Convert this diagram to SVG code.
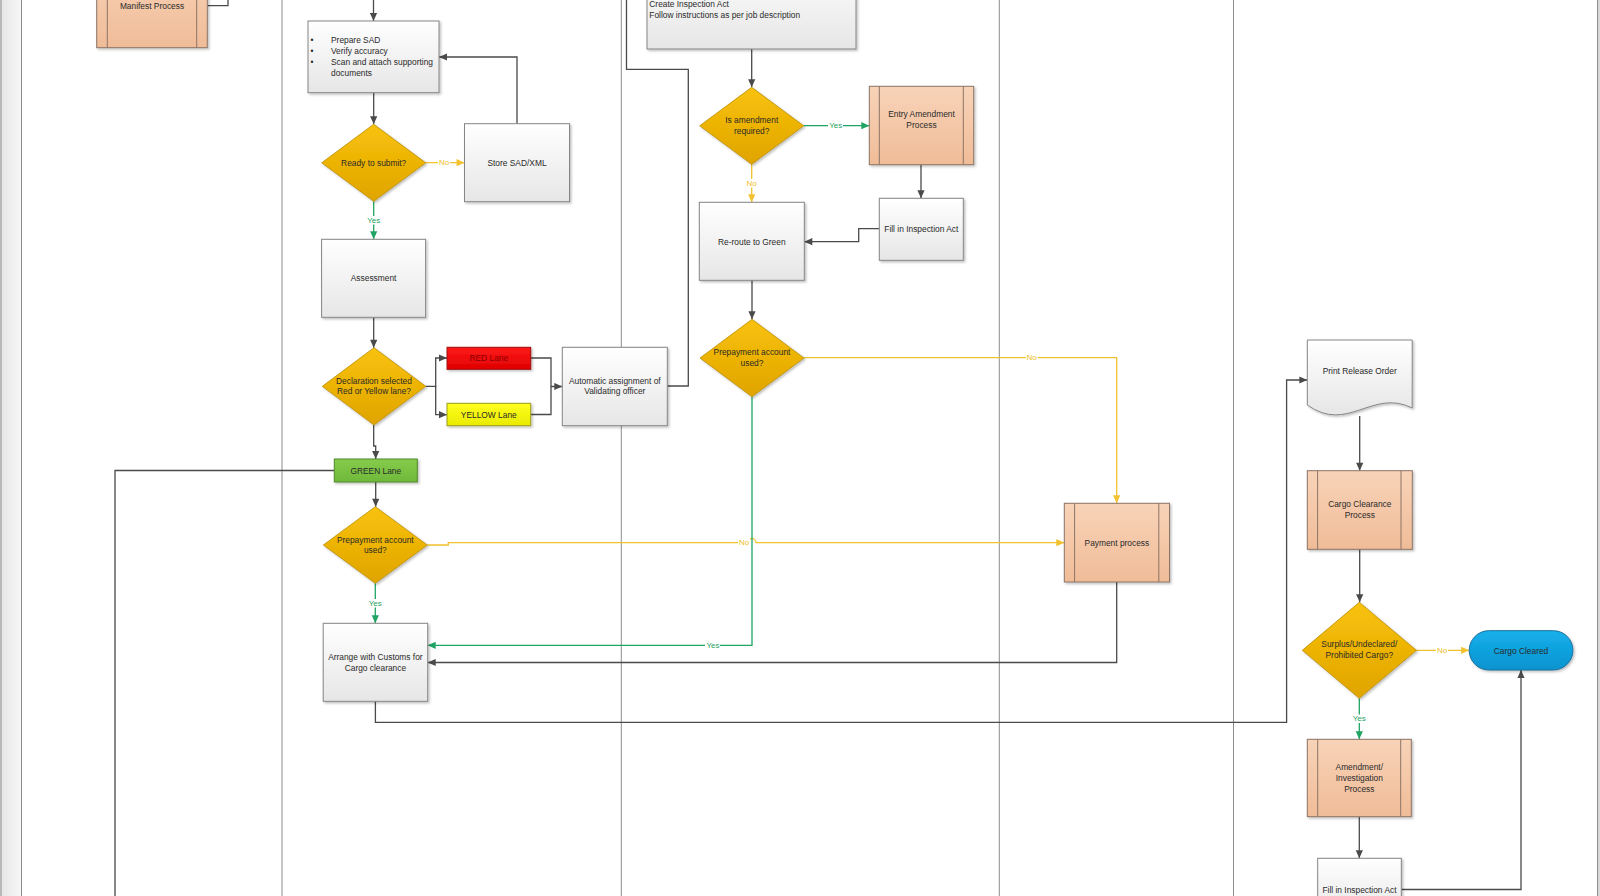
<svg xmlns="http://www.w3.org/2000/svg" width="1600" height="896" viewBox="0 0 1600 896">
<defs>
<linearGradient id="gBox" x1="0" y1="0" x2="0" y2="1"><stop offset="0" stop-color="#ffffff"/><stop offset="1" stop-color="#e6e6e6"/></linearGradient>
<linearGradient id="gDec" x1="0" y1="0" x2="0" y2="1"><stop offset="0" stop-color="#f9c20a"/><stop offset="1" stop-color="#e0a400"/></linearGradient>
<linearGradient id="gSub" x1="0" y1="0" x2="0" y2="1"><stop offset="0" stop-color="#f8d3b8"/><stop offset="1" stop-color="#f0bc98"/></linearGradient>
<linearGradient id="gBlue" x1="0" y1="0" x2="0" y2="1"><stop offset="0" stop-color="#16b0ec"/><stop offset="1" stop-color="#0793cf"/></linearGradient>
<linearGradient id="gRed" x1="0" y1="0" x2="0" y2="1"><stop offset="0" stop-color="#ff1a1a"/><stop offset="1" stop-color="#e00000"/></linearGradient>
<linearGradient id="gYel" x1="0" y1="0" x2="0" y2="1"><stop offset="0" stop-color="#ffff20"/><stop offset="1" stop-color="#eaea00"/></linearGradient>
<linearGradient id="gGrn" x1="0" y1="0" x2="0" y2="1"><stop offset="0" stop-color="#86cc4c"/><stop offset="1" stop-color="#6fb83a"/></linearGradient>
<linearGradient id="gLeft" x1="0" y1="0" x2="1" y2="0"><stop offset="0" stop-color="#e4e4e4"/><stop offset="1" stop-color="#f8f8f8"/></linearGradient>
<filter id="sh" x="-10%" y="-10%" width="130%" height="130%"><feDropShadow dx="1.5" dy="1.5" stdDeviation="1" flood-color="#000" flood-opacity="0.25"/></filter>
<marker id="aD" viewBox="0 0 10 10" refX="10" refY="5" markerWidth="9" markerHeight="8" markerUnits="userSpaceOnUse" orient="auto"><path d="M0 0.5 L10 5 L0 9.5 z" fill="#4a4a4a"/></marker>
<marker id="aG" viewBox="0 0 10 10" refX="10" refY="5" markerWidth="9" markerHeight="8" markerUnits="userSpaceOnUse" orient="auto"><path d="M0 0.5 L10 5 L0 9.5 z" fill="#1fa463"/></marker>
<marker id="aY" viewBox="0 0 10 10" refX="10" refY="5" markerWidth="9" markerHeight="8" markerUnits="userSpaceOnUse" orient="auto"><path d="M0 0.5 L10 5 L0 9.5 z" fill="#f2c12e"/></marker>
</defs>
<style>
.box{fill:url(#gBox);stroke:#858585;stroke-width:1;filter:url(#sh)}
.dec{fill:url(#gDec);stroke:#b98d00;stroke-width:0.8;filter:url(#sh)}
.sub{fill:url(#gSub);stroke:#8c7466;stroke-width:1;filter:url(#sh)}
.inner{stroke:#8c7466;stroke-width:1}
.t{font-family:"Liberation Sans",Arial,sans-serif;font-size:8.4px;fill:#2a2a2a;text-anchor:middle;dominant-baseline:central}
.tl{font-family:"Liberation Sans",Arial,sans-serif;font-size:8.4px;fill:#2a2a2a;dominant-baseline:central}
.lg{font-family:"Liberation Sans",Arial,sans-serif;font-size:8px;fill:#1fa463;text-anchor:middle;dominant-baseline:central}
.ly{font-family:"Liberation Sans",Arial,sans-serif;font-size:8px;fill:#efbd1c;text-anchor:middle;dominant-baseline:central}
.bg{fill:#ffffff}
.c{fill:none;stroke:#4a4a4a;stroke-width:1.3}
.cg{fill:none;stroke:#1fa463;stroke-width:1.3}
.cy{fill:none;stroke:#f2c12e;stroke-width:1.3}
.lane{stroke:#8c8c8c;stroke-width:1}
</style>
<rect x="0" y="0" width="1600" height="896" fill="#ffffff"/>
<g id="frame">
<rect x="0" y="0" width="22" height="896" fill="url(#gLeft)"/>
<line x1="1" y1="0" x2="1" y2="896" stroke="#9a9a9a" stroke-width="1.2"/>
<line x1="21.5" y1="0" x2="21.5" y2="896" class="lane"/>
<line x1="282" y1="0" x2="282" y2="896" class="lane"/>
<line x1="621.3" y1="0" x2="621.3" y2="896" class="lane"/>
<line x1="999.3" y1="0" x2="999.3" y2="896" class="lane"/>
<line x1="1233.5" y1="0" x2="1233.5" y2="896" class="lane"/>
<rect x="1597.5" y="0" width="3" height="896" fill="#d8d8d8"/>
<line x1="1597.5" y1="0" x2="1597.5" y2="896" stroke="#8c8c8c" stroke-width="1"/>
</g>

<g id="connectors">
<path class="c" d="M207.3 5.7 H228 V0"/>
<path class="c" d="M373.5 0 V21" marker-end="url(#aD)"/>
<path class="c" d="M373.7 92.7 V124.3" marker-end="url(#aD)"/>
<path class="cy" d="M425.7 162.7 H464.5" marker-end="url(#aY)"/>
<path class="c" d="M517 123.7 V57 H439" marker-end="url(#aD)"/>
<path class="cg" d="M373.7 201.3 V239.3" marker-end="url(#aG)"/>
<path class="c" d="M373.7 317.3 V347.7" marker-end="url(#aD)"/>
<path class="c" d="M425.7 386.3 H435.7 V358 H447" marker-end="url(#aD)"/>
<path class="c" d="M435.7 386.3 V414.7 H447" marker-end="url(#aD)"/>
<path class="c" d="M530.7 358 H551 V386.5 H562.3" marker-end="url(#aD)"/>
<path class="c" d="M530.7 414.5 H551 V386.5"/>
<path class="c" d="M667.3 386 H688.3 V69.4 H626.5 V0"/>
<path class="c" d="M373.7 425 V446 H375.7 V459" marker-end="url(#aD)"/>
<path class="c" d="M334.3 470.5 H115 V896"/>
<path class="c" d="M375.7 482 V506.7" marker-end="url(#aD)"/>
<path class="cy" d="M427.3 545 H448.3 V542.7 H748 A4 4 0 0 1 756 542.7 H1064.3" marker-end="url(#aY)"/>
<path class="cg" d="M375.3 583.3 V623.3" marker-end="url(#aG)"/>
<path class="c" d="M751.7 49 V87.3" marker-end="url(#aD)"/>
<path class="cg" d="M803.7 125.7 H869.3" marker-end="url(#aG)"/>
<path class="cy" d="M751.7 164.3 V202.3" marker-end="url(#aY)"/>
<path class="c" d="M921 164.7 V198.3" marker-end="url(#aD)"/>
<path class="c" d="M879.3 228.7 H858.7 V241.7 H804.3" marker-end="url(#aD)"/>
<path class="c" d="M752 280.3 V319.3" marker-end="url(#aD)"/>
<path class="cy" d="M804 357.7 H1116.7 V503.3" marker-end="url(#aY)"/>
<path class="cg" d="M752 396.7 V645.3 H427.7" marker-end="url(#aG)"/>
<path class="c" d="M1116.7 582 V662.5 H427.7" marker-end="url(#aD)"/>
<path class="c" d="M375.4 701.3 V722.3 H1286.6 V380 H1307.3" marker-end="url(#aD)"/>
<path class="c" d="M1359.7 416 V470.7" marker-end="url(#aD)"/>
<path class="c" d="M1359.7 549.3 V602.3" marker-end="url(#aD)"/>
<path class="cy" d="M1416.4 650.3 H1469.2" marker-end="url(#aY)"/>
<path class="cg" d="M1359.3 698.3 V739.3" marker-end="url(#aG)"/>
<path class="c" d="M1359.3 816.7 V858.3" marker-end="url(#aD)"/>
<path class="c" d="M1401.3 889.5 H1521 V670" marker-end="url(#aD)"/>
<rect class="bg" x="438" y="158.5" width="12" height="8"/><text class="ly" x="444" y="162.7">No</text>
<rect class="bg" x="366" y="216" width="15" height="8.5"/><text class="lg" x="373.7" y="220.3">Yes</text>
<rect class="bg" x="738" y="538.5" width="12" height="8"/><text class="ly" x="744" y="542.7">No</text>
<rect class="bg" x="367.5" y="599" width="15" height="8.5"/><text class="lg" x="375.3" y="603.3">Yes</text>
<rect class="bg" x="828" y="121.5" width="15" height="8.5"/><text class="lg" x="835.7" y="125.7">Yes</text>
<rect class="bg" x="745.7" y="179" width="12" height="8.5"/><text class="ly" x="751.7" y="183.3">No</text>
<rect class="bg" x="1025.7" y="353.5" width="12" height="8"/><text class="ly" x="1031.7" y="357.7">No</text>
<rect class="bg" x="705" y="641" width="15" height="8.5"/><text class="lg" x="713" y="645.3">Yes</text>
<rect class="bg" x="1436" y="646" width="12" height="8"/><text class="ly" x="1442" y="650.3">No</text>
<rect class="bg" x="1352" y="714.5" width="15" height="8.5"/><text class="lg" x="1359.3" y="718.7">Yes</text>
</g>

<g id="n-manifest">
<rect class="sub" x="96.7" y="-40" width="110.6" height="87.7"/>
<line class="inner" x1="107.3" y1="-40" x2="107.3" y2="47.7"/>
<line class="inner" x1="196.7" y1="-40" x2="196.7" y2="47.7"/>
<text class="t" x="152" y="5.7">Manifest Process</text>
</g>
<g id="n-prepare">
<rect class="box" x="308" y="21" width="131" height="71.7"/>
<text class="tl" x="310.5" y="39.7">•</text><text class="tl" x="331" y="39.7">Prepare SAD</text>
<text class="tl" x="310.5" y="51">•</text><text class="tl" x="331" y="51">Verify accuracy</text>
<text class="tl" x="310.5" y="62">•</text><text class="tl" x="331" y="62">Scan and attach supporting</text>
<text class="tl" x="331" y="73.3">documents</text>
</g>
<g id="n-ready">
<polygon class="dec" points="321.7,162.8 373.7,124.3 425.7,162.8 373.7,201.3"/>
<text class="t" x="373.7" y="162.8">Ready to submit?</text>
</g>
<g id="n-store">
<rect class="box" x="464.5" y="123.7" width="105" height="78"/>
<text class="t" x="517" y="162.7">Store SAD/XML</text>
</g>
<g id="n-assessment">
<rect class="box" x="321.6" y="239.3" width="104" height="78"/>
<text class="t" x="373.6" y="278.3">Assessment</text>
</g>
<g id="n-declaration">
<polygon class="dec" points="322.3,386.3 374,347.7 425.7,386.3 374,425"/>
<text class="t" x="374" y="380.7">Declaration selected</text>
<text class="t" x="374" y="391.3">Red or Yellow lane?</text>
</g>
<g id="n-red">
<rect x="447" y="347.3" width="83.7" height="22" fill="url(#gRed)" stroke="#a01010" stroke-width="1" filter="url(#sh)"/>
<text class="t" x="488.8" y="358.3" style="fill:#8a0000">RED Lane</text>
</g>
<g id="n-yellow">
<rect x="447" y="403.3" width="83.7" height="22.4" fill="url(#gYel)" stroke="#9c9c20" stroke-width="1" filter="url(#sh)"/>
<text class="t" x="488.8" y="414.5">YELLOW Lane</text>
</g>
<g id="n-automatic">
<rect class="box" x="562.3" y="347.3" width="105" height="78.4"/>
<text class="t" x="614.8" y="380.7">Automatic assignment of</text>
<text class="t" x="614.8" y="391.3">Validating officer</text>
</g>
<g id="n-green">
<rect x="334.3" y="459" width="83" height="23" fill="url(#gGrn)" stroke="#4e8a2a" stroke-width="1" filter="url(#sh)"/>
<text class="t" x="375.8" y="470.5">GREEN Lane</text>
</g>
<g id="n-prepay1">
<polygon class="dec" points="323.3,545 375.3,506.7 427.3,545 375.3,583.3"/>
<text class="t" x="375.3" y="539.7">Prepayment account</text>
<text class="t" x="375.3" y="550.3">used?</text>
</g>
<g id="n-arrange">
<rect class="box" x="323.2" y="623.3" width="104.5" height="78"/>
<text class="t" x="375.4" y="656.7">Arrange with Customs for</text>
<text class="t" x="375.4" y="667.7">Cargo clearance</text>
</g>
<g id="n-inspect">
<rect class="box" x="647" y="-40" width="209" height="89"/>
<text class="tl" x="649.3" y="3.7">Create Inspection Act</text>
<text class="tl" x="649.3" y="14.7">Follow instructions as per job description</text>
</g>
<g id="n-amend">
<polygon class="dec" points="699.7,125.8 751.7,87.3 803.7,125.8 751.7,164.3"/>
<text class="t" x="751.7" y="119.7">Is amendment</text>
<text class="t" x="751.7" y="130.7">required?</text>
</g>
<g id="n-entry">
<rect class="sub" x="869.3" y="86.3" width="104.4" height="78.4"/>
<line class="inner" x1="879.3" y1="86.3" x2="879.3" y2="164.7"/>
<line class="inner" x1="963.3" y1="86.3" x2="963.3" y2="164.7"/>
<text class="t" x="921.5" y="114.3">Entry Amendment</text>
<text class="t" x="921.5" y="125.3">Process</text>
</g>
<g id="n-fill1">
<rect class="box" x="879.3" y="198.3" width="84" height="62"/>
<text class="t" x="921.3" y="228.7">Fill in Inspection Act</text>
</g>
<g id="n-reroute">
<rect class="box" x="699.3" y="202.3" width="105" height="78"/>
<text class="t" x="751.8" y="241.7">Re-route to Green</text>
</g>
<g id="n-prepay2">
<polygon class="dec" points="700,358 752,319.3 804,358 752,396.7"/>
<text class="t" x="752" y="352">Prepayment account</text>
<text class="t" x="752" y="362.7">used?</text>
</g>
<g id="n-payment">
<rect class="sub" x="1064.3" y="503.3" width="105.2" height="78.7"/>
<line class="inner" x1="1074.6" y1="503.3" x2="1074.6" y2="582"/>
<line class="inner" x1="1158.8" y1="503.3" x2="1158.8" y2="582"/>
<text class="t" x="1116.9" y="542.7">Payment process</text>
</g>
<g id="n-print">
<path class="box" d="M1307.3 340 H1412.2 V408 C1372 388 1348 434 1307.3 405 Z"/>
<text class="t" x="1359.7" y="370.7">Print Release Order</text>
</g>
<g id="n-cargoclear">
<rect class="sub" x="1307.3" y="470.7" width="105" height="78.6"/>
<line class="inner" x1="1317.6" y1="470.7" x2="1317.6" y2="549.3"/>
<line class="inner" x1="1401" y1="470.7" x2="1401" y2="549.3"/>
<text class="t" x="1359.8" y="504.3">Cargo Clearance</text>
<text class="t" x="1359.8" y="515.3">Process</text>
</g>
<g id="n-surplus">
<polygon class="dec" points="1302.3,650.3 1359.3,602.3 1416.4,650.3 1359.3,698.3"/>
<text class="t" x="1359.3" y="644.3">Surplus/Undeclared/</text>
<text class="t" x="1359.3" y="655.3">Prohibited Cargo?</text>
</g>
<g id="n-cleared">
<rect x="1469.2" y="630.7" width="103.7" height="39.3" rx="19.6" ry="19.6" fill="url(#gBlue)" stroke="#1c6f9c" stroke-width="1" filter="url(#sh)"/>
<text class="t" x="1521" y="650.5">Cargo Cleared</text>
</g>
<g id="n-amendinv">
<rect class="sub" x="1307.3" y="739.3" width="104" height="77.4"/>
<line class="inner" x1="1317.7" y1="739.3" x2="1317.7" y2="816.7"/>
<line class="inner" x1="1400.7" y1="739.3" x2="1400.7" y2="816.7"/>
<text class="t" x="1359.3" y="767.3">Amendment/</text>
<text class="t" x="1359.3" y="778">Investigation</text>
<text class="t" x="1359.3" y="788.7">Process</text>
</g>
<g id="n-fill2">
<rect class="box" x="1317.7" y="858.3" width="83.6" height="60"/>
<text class="t" x="1359.5" y="889.5">Fill in Inspection Act</text>
</g>
</svg>
